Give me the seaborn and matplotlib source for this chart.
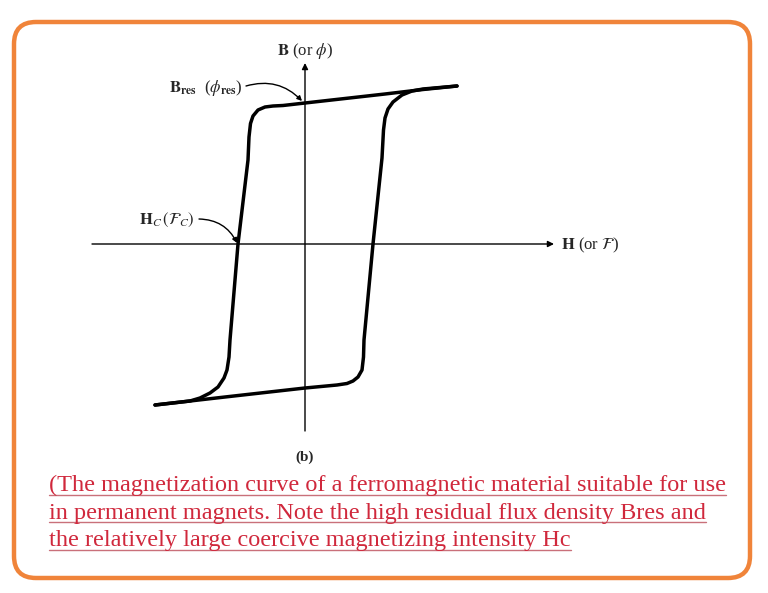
import numpy as np
import pandas as pd
import matplotlib.pyplot as plt
from matplotlib.patches import FancyBboxPatch
import seaborn as sns

# pontos (H, B) - ramo descendente e ramo ascendente
desc_H = [15.2, 11.8, 8.0, 4.0, 0.0, -2.2, -3.2, -4.0, -4.7, -5.2, -5.45, -5.6, -5.7,
          -6.7, -7.5, -7.6, -7.8, -8.1, -8.7, -9.5, -10.5, -11.5, -15.0]
desc_B = [15.8, 15.45, 15.0, 14.55, 14.1, 13.85, 13.8, 13.7, 13.4, 12.8, 12.05, 10.7, 8.4,
          0.0, -9.6, -11.3, -12.6, -13.4, -14.3, -14.9, -15.4, -15.7, -16.1]

asc_H = [-15.0, -11.5, -8.0, -4.0, 0.0, 3.2, 4.2, 4.8, 5.3, 5.7, 5.85, 5.9,
         6.8, 7.7, 7.85, 8.0, 8.3, 8.8, 9.7, 10.7, 11.8, 15.2]
asc_B = [-16.1, -15.7, -15.3, -14.85, -14.4, -14.1, -13.95, -13.7, -13.3, -12.6, -11.3, -9.6,
         0.0, 8.6, 11.4, 12.6, 13.5, 14.2, 14.9, 15.3, 15.5, 15.8]

# texto da legenda (vermelho, sublinhado)
legenda = ["(The magnetization curve of a ferromagnetic material suitable for use",
           "in permanent magnets. Note the high residual flux density Bres and",
           "the relatively large coercive magnetizing intensity Hc"]

df = pd.DataFrame({
    'H': desc_H + asc_H,
    'B': desc_B + asc_B,
    'ramo': ['desc'] * len(desc_H) + ['asc'] * len(asc_H),
})

sns.set_theme(style='white')
plt.rcParams['font.family'] = ['Liberation Serif', 'DejaVu Serif']
plt.rcParams['mathtext.fontset'] = 'stix'

fig = plt.figure(figsize=(7.68, 5.93), dpi=100)
ax = fig.add_axes([0, 0, 1, 1])

# moldura laranja
moldura = FancyBboxPatch((-29.1, -33.4), 73.6, 55.6,
                         boxstyle='round,pad=0,rounding_size=2.2',
                         fc='white', ec='#f0843a', lw=3.2, transform=ax.transData, zorder=0)
ax.add_patch(moldura)

# eixos com setas
seta = dict(arrowstyle='-|>', lw=1.0, color='black', mutation_scale=9, shrinkA=0, shrinkB=0)
ax.annotate('', xy=(24.9, 0), xytext=(-21.3, 0), arrowprops=seta)
ax.annotate('', xy=(0, 18.1), xytext=(0, -18.7), arrowprops=seta)

# curva de histerese
sns.lineplot(data=df, x='H', y='B', units='ramo', estimator=None, sort=False,
             color='black', lw=2.5, ax=ax, legend=False)
ax.set_xlim(-30.5, 46.3)
ax.set_ylim(-34.9, 24.4)
ax.axis('off')

ax.text(0, 19.3, r'$\mathbf{B}$ (or $\phi$)', ha='center', va='center', fontsize=12)
ax.text(25.6, -0.15, r'$\mathbf{H}$ (or $\mathcal{F}$)', ha='left', va='center', fontsize=12)
ax.text(-6.2, 15.6, r'$\mathbf{B}_{\mathbf{res}}$  ($\phi_{\mathbf{res}}$)',
        ha='right', va='center', fontsize=12)
ax.text(-11.0, 2.4, r'$\mathbf{H}_{C}\,(\mathcal{F}_{C})$', ha='right', va='center', fontsize=12)
ax.text(0, -21.3, '(b)', ha='center', va='center', fontsize=11, fontweight='bold')

seta2 = dict(arrowstyle='-|>', lw=1.0, color='black', mutation_scale=7,
             shrinkA=0, shrinkB=0, connectionstyle='arc3,rad=-0.3')
ax.annotate('', xy=(-0.3, 14.3), xytext=(-5.9, 15.8), arrowprops=seta2)
ax.annotate('', xy=(-6.8, 0.1), xytext=(-10.6, 2.5), arrowprops=seta2)

# legenda sublinhada
fig.canvas.draw()
renderer = fig.canvas.get_renderer()
inv = ax.transData.inverted()
y0 = -24.7
for linha in legenda:
    t = ax.text(-25.6, y0, linha, ha='left', va='baseline', fontsize=17.5, color='#d0283c')
    bb = t.get_window_extent(renderer=renderer)
    x1 = inv.transform((bb.x1, 0))[0]
    ax.plot([-25.6, x1], [y0 - 0.35, y0 - 0.35], color='#c9707a', lw=1.0)
    y0 -= 2.75

fig.savefig('out.png', dpi=100)
